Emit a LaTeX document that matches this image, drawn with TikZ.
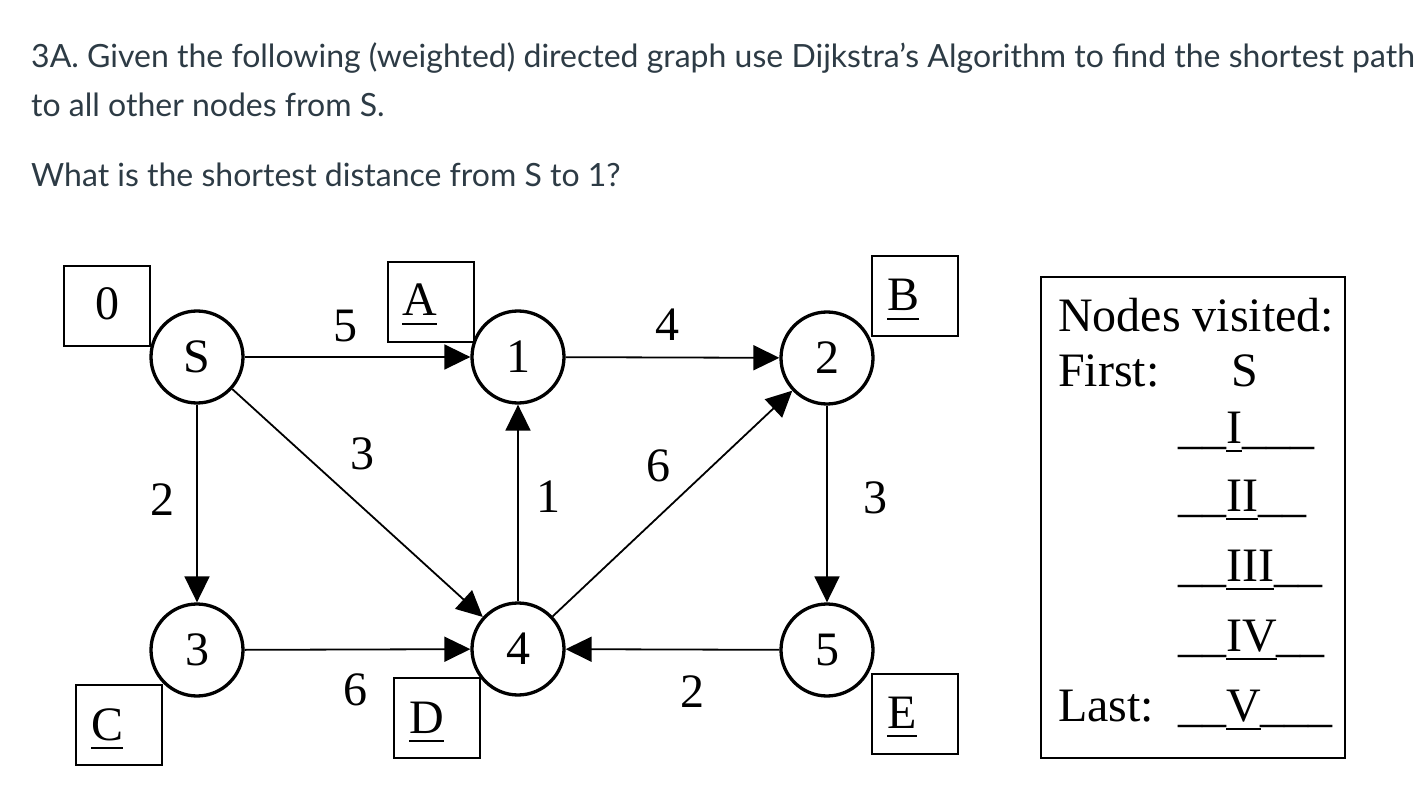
\documentclass[tikz,border=0pt]{standalone}
\usepackage{fontspec}
\setmainfont{Liberation Serif}
\newfontfamily\lato{Lato}
\usetikzlibrary{arrows.meta}
\definecolor{hdr}{HTML}{2D3B45}
\newcommand\ulx[1]{\leavevmode\setbox0\hbox{#1}\rlap{\rule[-9pt]{\wd0}{2pt}}\box0}
\begin{document}
\begin{tikzpicture}[x=1pt,y=-1pt,
  vert/.style={circle, draw, line width=3.3pt, minimum size=92pt, inner sep=0pt, font=\fontsize{48}{50}\selectfont},
  lbl/.style={inner sep=0pt, font=\fontsize{48}{50}\selectfont},
  wedge/.style={line width=1.8pt, -{Triangle[length=26pt,width=25pt]}},
  tagbox/.style={draw, line width=1.8pt, minimum width=86pt, minimum height=80pt, inner sep=0pt, anchor=north west},
  hd/.style={anchor=base west, inner sep=0pt, text=hdr, font=\lato\fontsize{32}{36}\selectfont},
  panel/.style={anchor=base west, inner sep=0pt, font=\fontsize{48}{50}\selectfont}
]
\useasboundingbox (0,0) rectangle (1428,802);
\fill[white] (0,0) rectangle (1428,802);

% header
\node[hd] (h1) at (31,68) {3A. Given the following (weighted) directed graph use Dijkstra’s Algorithm to find the shortest path};
\node[hd] (h2) at (31,117) {to all other nodes from S.};
\node[hd] (h3) at (31,187) {What is the shortest distance from S to 1?};

% vertices
\node[vert] (S) at (197,357) {S};
\node[vert] (n1) at (518,357) {1};
\node[vert] (n2) at (827,358) {2};
\node[vert] (n3) at (197,650) {3};
\node[vert] (n4) at (518,649) {4};
\node[vert] (n5) at (827,650) {5};

% edges
\draw[wedge] (S) -- (n1);
\draw[wedge] (n1) -- (n2);
\draw[wedge] (S) -- (n3);
\draw[wedge] (S) -- (n4);
\draw[wedge] (n4) -- (n1);
\draw[wedge] (n4) -- (n2);
\draw[wedge] (n2) -- (n5);
\draw[wedge] (n3) -- (n4);
\draw[wedge] (n5) -- (n4);

% weights
\node[lbl] (w1) at (345,326) {5};
\node[lbl] (w2) at (667,325) {4};
\node[lbl] (w3) at (362,454) {3};
\node[lbl] (w4) at (162,500) {2};
\node[lbl] (w5) at (548,497) {1};
\node[lbl] (w6) at (658,466) {6};
\node[lbl] (w7) at (875,498) {3};
\node[lbl] (w8) at (355,690) {6};
\node[lbl] (w9) at (692,692) {2};

% tag boxes
\node[tagbox] (b0) at (63,265) {};
\node[panel] (t0) at (95,320) {0};
\node[tagbox] (bA) at (387,261) {};
\node[panel] (tA) at (402,316) {\ulx{A}};
\node[tagbox] (bB) at (871,255) {};
\node[panel] (tB) at (887,311) {\ulx{B}};
\node[tagbox] (bC) at (75,684) {};
\node[panel] (tC) at (91,740) {\ulx{C}};
\node[tagbox] (bD) at (393,677) {};
\node[panel] (tD) at (409,733) {\ulx{D}};
\node[tagbox] (bE) at (871,673) {};
\node[panel] (tE) at (887,728) {\ulx{E}};

% right panel
\draw[line width=2.3pt] (1041,277) rectangle (1345,758);
\node[panel] (p1) at (1058,332) {Nodes visited:};
\node[panel] (p2) at (1058,387) {First:};
\node[lbl, anchor=base] (p3) at (1245,387) {S};
\node[panel] (p4) at (1178,443) {\_\_\ulx{I}\_\_\_};
\node[panel] (p5) at (1178,511) {\_\_\ulx{II}\_\_};
\node[panel] (p6) at (1178,581) {\_\_\ulx{III}\_\_};
\node[panel] (p7) at (1178,651) {\_\_\ulx{IV}\_\_};
\node[panel] (p8) at (1058,721) {Last:};
\node[panel] (p9) at (1178,721) {\_\_\ulx{V}\_\_\_};
\end{tikzpicture}
\end{document}
